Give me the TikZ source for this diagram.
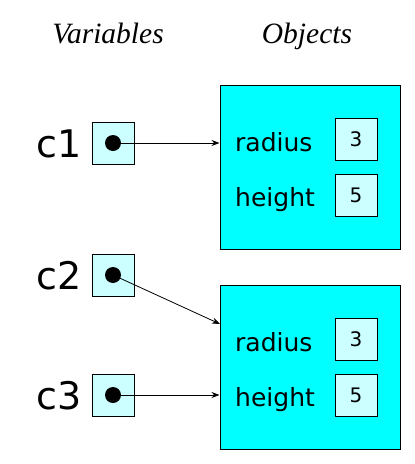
\documentclass[tikz,border=0pt]{standalone}
\usepackage{fontspec}
\newfontfamily\labelfont{DejaVu Sans}
\newfontfamily\titlefont{Liberation Serif}
\usetikzlibrary{arrows.meta}
\definecolor{objcyan}{HTML}{00FFFF}
\definecolor{cellcyan}{HTML}{CCFFFF}
\tikzset{
  objbox/.style={draw=black, line width=1pt, fill=objcyan, minimum width=180pt, minimum height=164pt, inner sep=0pt},
  cellbox/.style={draw=black, line width=1pt, fill=cellcyan, minimum width=42pt, minimum height=42pt, inner sep=0pt},
  refdot/.style={circle, fill=black, minimum size=16pt, inner sep=0pt},
  varlabel/.style={font=\labelfont\fontsize{38}{40}\selectfont, anchor=base},
  fieldlabel/.style={font=\labelfont\fontsize{25}{27}\selectfont, anchor=base west, inner sep=0pt},
  vallabel/.style={font=\labelfont\fontsize{20}{22}\selectfont},
  title/.style={font=\titlefont\itshape\fontsize{29.5}{31}\selectfont, anchor=base},
  ptr/.style={line width=0.8pt, -{Stealth[length=8pt,width=6pt]}}
}
\begin{document}
\begin{tikzpicture}[x=1pt,y=-1pt]
\useasboundingbox (0,0) rectangle (415,464);
% titles
\node[title] (tv) at (108,43) {Variables};
\node[title] (to) at (307,43) {Objects};
% objects
\node[objbox] (o1) at (310,167) {};
\node[objbox] (o2) at (310,367) {};
\node[fieldlabel] (r1) at (235,151) {radius};
\node[fieldlabel] (h1) at (235,206) {height};
\node[cellbox] (v1r) at (356,139) {};
\node[vallabel] at (v1r) {3};
\node[cellbox] (v1h) at (356,195) {};
\node[vallabel] at (v1h) {5};
\node[fieldlabel] (r2) at (235,351) {radius};
\node[fieldlabel] (h2) at (235,406) {height};
\node[cellbox] (v2r) at (356,339) {};
\node[vallabel] at (v2r) {3};
\node[cellbox] (v2h) at (356,395) {};
\node[vallabel] at (v2h) {5};
% variables
\node[cellbox] (c1) at (113,143) {};
\node[cellbox] (c2) at (113,275) {};
\node[cellbox] (c3) at (113,395) {};
\node[varlabel] (l1) at (59,157) {c1};
\node[varlabel] (l2) at (59,289) {c2};
\node[varlabel] (l3) at (59,409) {c3};
\node[refdot] (d1) at (c1) {};
\node[refdot] (d2) at (c2) {};
\node[refdot] (d3) at (c3) {};
% pointers
\coordinate (t2) at (220,324);
\draw[ptr] (d1.center) -- (d1.center -| o1.west);
\draw[ptr] (d2.center) -- (t2);
\draw[ptr] (d3.center) -- (d3.center -| o2.west);
\end{tikzpicture}
\end{document}
